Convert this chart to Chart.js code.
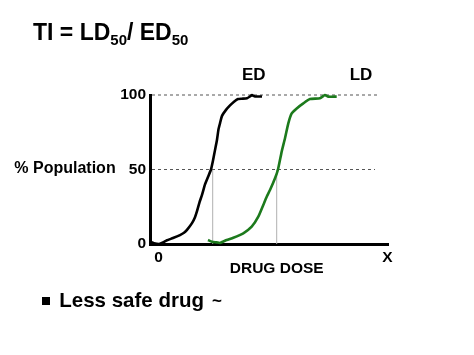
<!DOCTYPE html>
<html>
<head>
<meta charset="utf-8">
<script src="https://cdn.jsdelivr.net/npm/chart.js@4/dist/chart.umd.min.js"></script>
<style>
  html, body { margin: 0; padding: 0; background: #fff; }
  #wrap { position: relative; width: 474px; height: 355px; overflow: hidden; }
  #c { position: absolute; left: 0; top: 0; }
  .t { position: absolute; white-space: nowrap; font-family: 'Liberation Sans', Arial, sans-serif; font-weight: bold; color: #000; }
  .t sub { font-size: 15px; vertical-align: -5.3px; line-height: 1; }
  #bullet { position: absolute; left: 42px; top: 297px; width: 8px; height: 8px; background: #000; }
</style>
</head>
<body>
<div id="wrap">
  <canvas id="c" width="474" height="355"></canvas>
  <div id="bullet"></div>
</div>
<script>
// ---- data (dose in arbitrary units, response in % population) ----
const yTicks = [0, 50, 100];
const edDose = [0, 4, 9, 13, 17, 23, 30, 34, 37, 42, 45, 47, 49.5, 52, 55, 58, 61, 63, 65, 67, 68.5, 70, 72, 76, 80, 84, 88, 92, 97, 100, 102, 105, 112];
const edPct  = [1.5, 0.5, 0, 1, 2.5, 4, 6, 7.5, 9.5, 14, 18, 22, 28, 33, 40, 45, 50, 56, 63, 70, 77, 81, 86, 90, 93, 95.5, 97.3, 97.5, 97.8, 99, 100, 99, 99];
const ldDose = [58, 62, 66.7, 70, 76.7, 83.3, 93.3, 101.7, 108.3, 113.3, 116.7, 120, 125, 128, 131.7, 135, 138.3, 141.7, 146.7, 153.3, 160, 170, 175, 178.3, 186.7];
const ldPct  = [2.7, 1.5, 1.1, 0.7, 2.7, 4.2, 7.2, 11.6, 18.3, 26.2, 31.7, 36.2, 44.1, 50, 62, 71, 81, 87.7, 91, 94.4, 97.3, 97.8, 100, 98.9, 98.9];
const ed50 = 62.7;
const ld50 = 126.7;
const gridLevels = [100, 50];
const gridStart = 2;
const gridEnds = [228, 225];
const doseMax = 238;

const pts = (xs, ys) => xs.map((x, i) => ({ x: x, y: ys[i] }));

const datasets = [
  { data: pts(edDose, edPct), borderColor: '#000000', borderWidth: 2.6, tension: 0.15, order: 1, clip: false },
  { data: pts(ldDose, ldPct), borderColor: '#1c7a1c', borderWidth: 2.6, tension: 0.15, order: 1, clip: false }
];
gridLevels.forEach((lvl, i) => {
  datasets.push({ data: [{ x: gridStart, y: lvl }, { x: gridEnds[i], y: lvl }], borderColor: '#555555', borderWidth: 1, borderDash: [3, 3], order: 3, clip: false });
});
[ed50, ld50].forEach(d => {
  datasets.push({ data: [{ x: d, y: 0 }, { x: d, y: 50 }], borderColor: '#b0b0b0', borderWidth: 1, order: 2, clip: false });
});

new Chart(document.getElementById('c'), {
  type: 'line',
  data: { datasets: datasets },
  options: {
    responsive: false,
    animation: false,
    devicePixelRatio: 1,
    layout: { padding: { left: 0, top: 95, right: 86, bottom: 0 } },
    elements: { point: { radius: 0 } },
    plugins: { legend: { display: false }, tooltip: { enabled: false } },
    scales: {
      x: {
        type: 'linear', min: 0, max: doseMax,
        grid: { display: false, drawTicks: false },
        ticks: { display: false },
        border: { display: true, color: '#000', width: 3 },
        afterFit: s => { s.height = 111; }
      },
      y: {
        type: 'linear', min: 0, max: 100,
        afterBuildTicks: s => { s.ticks = yTicks.map(v => ({ value: v })); },
        grid: { display: false, drawTicks: false },
        ticks: { color: '#000', padding: 4, font: { family: "'Liberation Sans', Arial, sans-serif", size: 15.5, weight: 'bold' } },
        border: { display: true, color: '#000', width: 3 },
        afterFit: s => { s.width = 150; }
      }
    }
  }
});

// ---- text overlays ----
const wrap = document.getElementById('wrap');
function label(html, x, baseline, size, align) {
  const d = document.createElement('div');
  d.className = 't';
  d.innerHTML = html;
  d.style.fontSize = size + 'px';
  d.style.lineHeight = size + 'px';
  d.style.left = x + 'px';
  d.style.top = (baseline - 0.8465 * size) + 'px';
  if (align === 'center') d.style.transform = 'translateX(-50%)';
  if (align === 'right') d.style.transform = 'translateX(-100%)';
  wrap.appendChild(d);
}
label('TI = LD<sub>50</sub>/ ED<sub>50</sub>', 33, 40.7, 23, 'left');
label('ED', 253.7, 80.1, 17, 'center');
label('LD', 361, 80.1, 17, 'center');
label('% Population', 65, 174, 16, 'center');
label('0', 158.5, 262, 15.5, 'center');
label('X', 387.3, 262, 15.5, 'center');
label('DRUG DOSE', 276.7, 273.3, 15.5, 'center');
label('Less safe drug', 59.3, 307.3, 20.5, 'left');
label('~', 212, 306, 17, 'left');
</script>
</body>
</html>
